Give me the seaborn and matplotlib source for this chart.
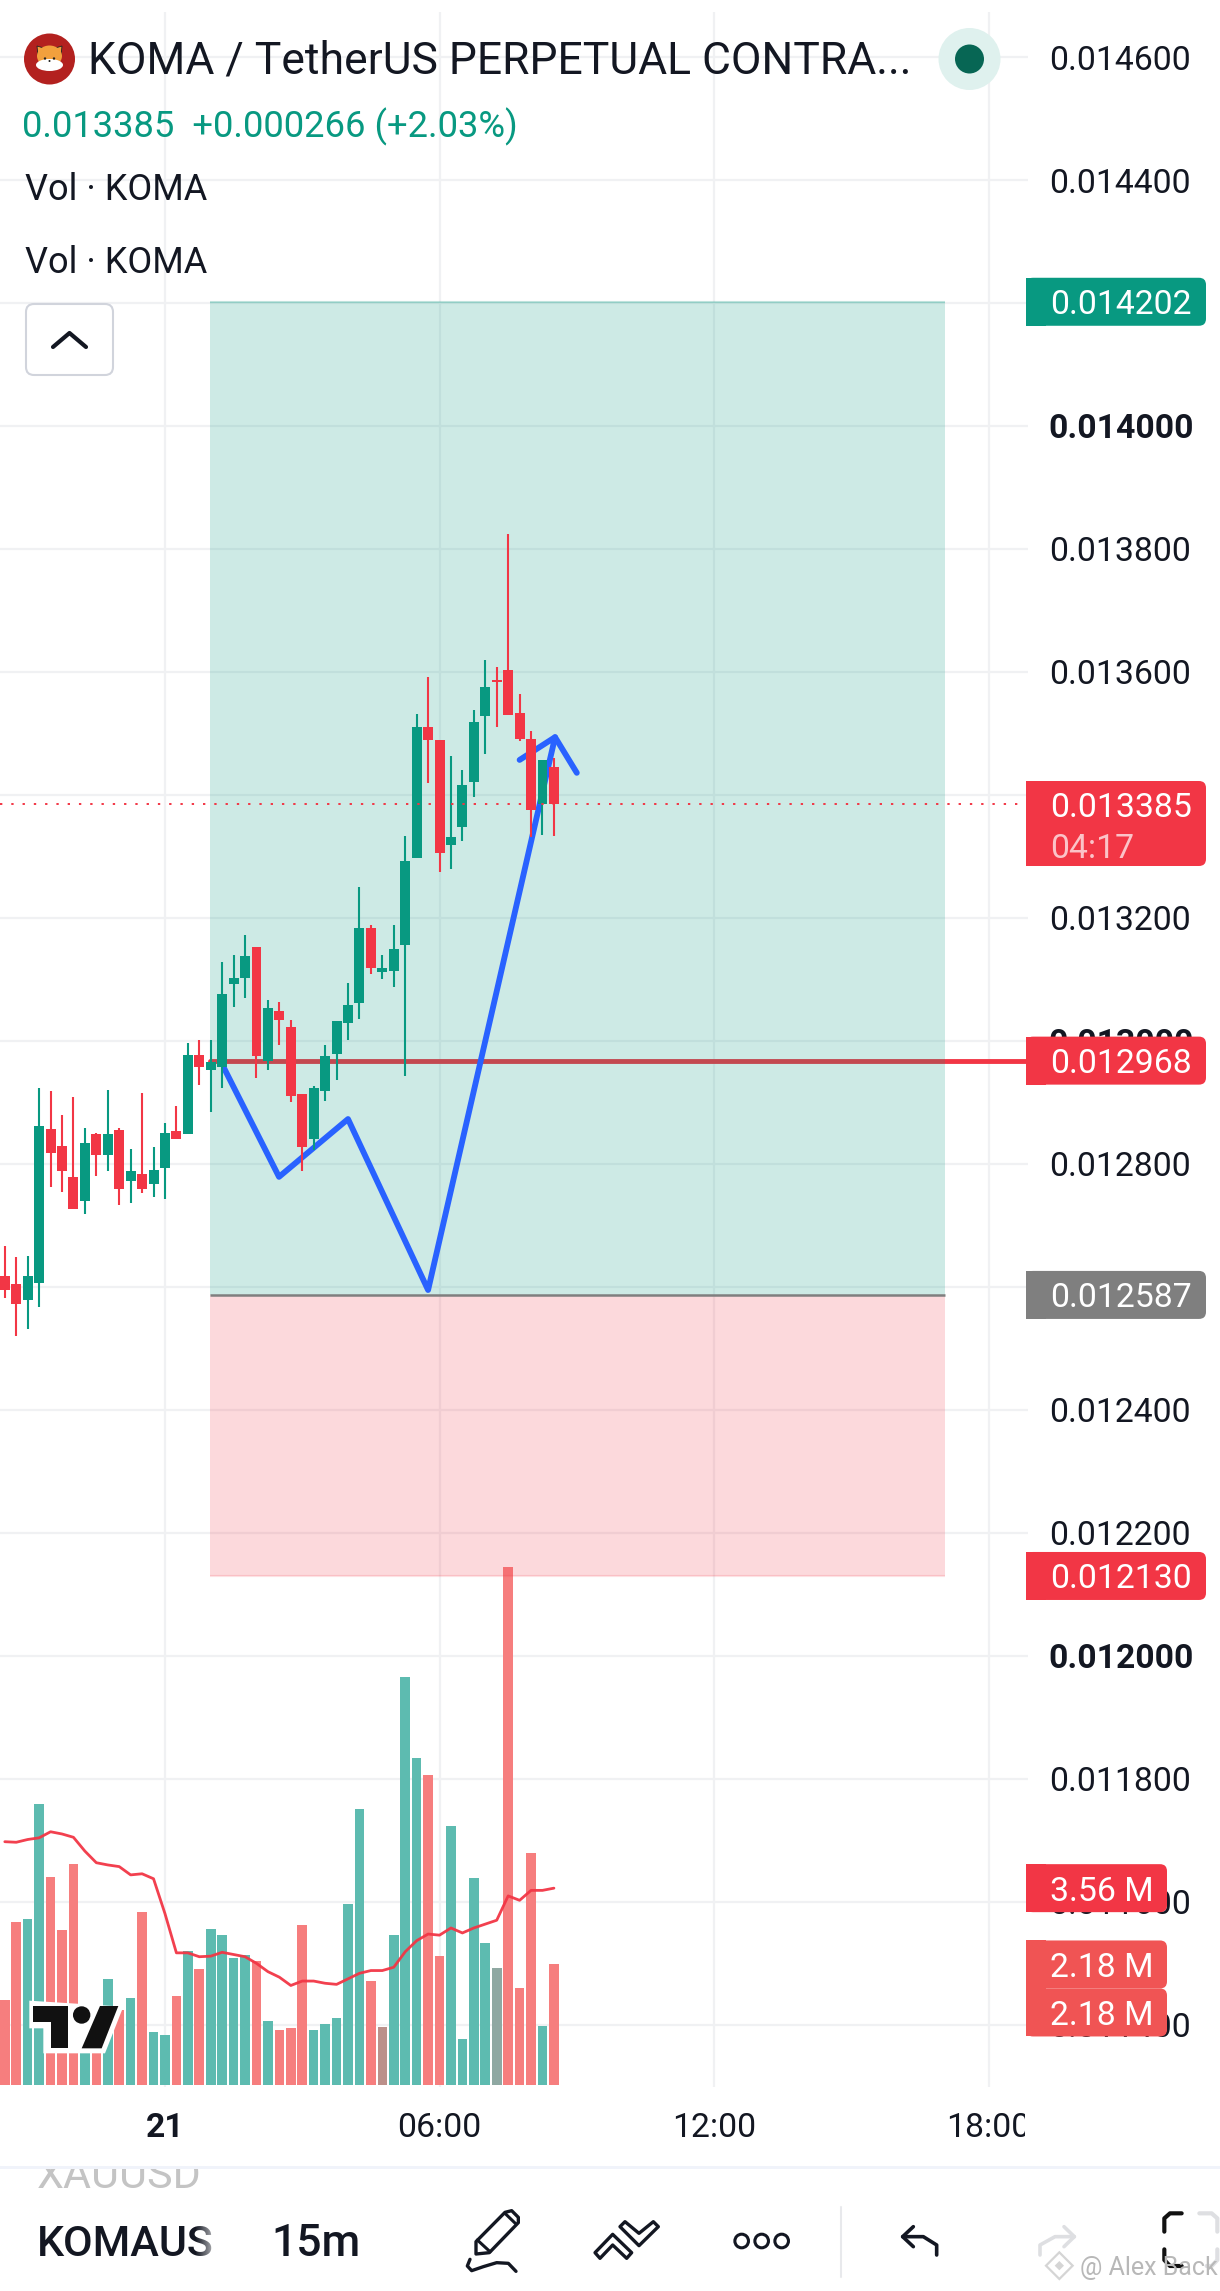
import matplotlib
matplotlib.use("Agg")
import matplotlib.pyplot as plt
import numpy as np
import pandas as pd
import seaborn as sns
from matplotlib.patches import Circle, Ellipse, FancyBboxPatch, Polygon, Rectangle

# candles, price x 1e6, bar index 0 = the "21" session open
first_bar = -14
opens = [12618, 12605, 12578, 12606, 12857, 12829, 12779, 12739, 12848, 12814, 12856, 12772, 12784, 12767,
         12793, 12854, 12849, 12977, 12952, 12957, 13092, 13103, 13152, 12967, 13049, 13023, 12914, 12840,
         12918, 12979, 13030, 13062, 13184, 13112, 13114, 13156, 13298, 13511, 13489, 13319, 13348, 13421,
         13529, 13584, 13603, 13533, 13491, 13386, 13445]
closes = [12595, 12572, 12618, 12861, 12817, 12788, 12727, 12834, 12815, 12849, 12759, 12789, 12760, 12790,
          12851, 12841, 12977, 12957, 12966, 13077, 13103, 13138, 12975, 13054, 13034, 12911, 12827, 12924,
          12976, 13033, 13059, 13184, 13119, 13119, 13149, 13293, 13511, 13490, 13306, 13332, 13416, 13519,
          13575, 13583, 13530, 13491, 13376, 13457, 13385]
highs = [12667, 12648, 12650, 12924, 12918, 12880, 12909, 12859, 12850, 12921, 12859, 12825, 12916, 12828,
         12867, 12895, 12997, 13001, 13001, 13129, 13139, 13173, 13152, 13067, 13064, 13034, 12914, 12927,
         12994, 13033, 13095, 13250, 13188, 13140, 13188, 13333, 13532, 13592, 13489, 13464, 13440, 13538,
         13619, 13608, 13824, 13564, 13504, 13457, 13460]
lows = [12582, 12521, 12531, 12568, 12763, 12755, 12727, 12718, 12781, 12789, 12734, 12737, 12753, 12747,
        12743, 12841, 12849, 12929, 12885, 12924, 13056, 13070, 12939, 12953, 12993, 12901, 12788, 12823,
        12902, 12937, 13002, 13036, 13109, 13101, 13088, 12943, 13298, 13420, 13275, 13280, 13325, 13397,
        13467, 13511, 13530, 13488, 13332, 13335, 13333]

# volume in millions, with the MA line over it
volumes = [1.54, 2.94, 3.01, 5.09, 3.76, 2.81, 3.99, 1.30, 1.30, 1.91, 1.36, 1.57, 3.12, 0.96,
           0.90, 1.61, 2.42, 2.09, 2.83, 2.71, 2.29, 2.36, 2.25, 1.15, 1.00, 1.03, 2.90, 1.00,
           1.11, 1.22, 3.28, 5.00, 1.88, 1.05, 2.72, 7.37, 5.92, 5.60, 2.34, 4.69, 0.84, 3.75,
           2.56, 2.12, 9.36, 1.76, 4.20, 1.07, 2.18]
vol_kinds = ["down", "down", "up", "up", "down", "down", "down", "up", "down", "up", "down", "up", "down", "up",
             "up", "down", "up", "down", "up", "up", "up", "up", "down", "up", "down", "down", "down", "up",
             "up", "up", "up", "up", "down", "brown", "up", "up", "up", "down", "down", "up", "up", "up",
             "up", "grey", "down", "down", "down", "up", "down"]
vol_ma = [4.40, 4.39, 4.44, 4.47, 4.58, 4.54, 4.48, 4.23, 4.02, 3.98, 3.95, 3.80, 3.82, 3.73,
          3.10, 2.39, 2.39, 2.32, 2.33, 2.40, 2.36, 2.32, 2.20, 2.05, 1.95, 1.80, 1.88, 1.88,
          1.84, 1.82, 1.92, 2.02, 2.07, 2.07, 2.13, 2.41, 2.61, 2.73, 2.71, 2.84, 2.75, 2.84,
          2.91, 2.98, 3.42, 3.34, 3.52, 3.52, 3.56]

# hand drawn blue path
path_bars = [5.16, 9.97, 16.0, 23.0, 34.1, 31.0]
path_prices = [12956, 12779, 12873, 12595, 13494, 13457]
wing_bars = [34.1, 36.0]
wing_prices = [13494, 13436]

# long position tool
target = 14202
entry = 12968
stop_line = 12587
stop = 12130
last_price = 13385
tool_start, tool_end = 3.93, 68.2

price_ticks = [14600, 14400, 14200, 14000, 13800, 13600, 13400, 13200, 13000, 12800, 12600, 12400, 12200,
               12000, 11800, 11600, 11400]
bold_ticks = [14000, 13000, 12000]
time_ticks = [0, 24, 48, 72]
time_labels = ["21", "06:00", "12:00", "18:00"]

GREEN = "#089981"
RED = "#f23645"
INK = "#131722"
FONT = "Roboto"

W, H = 1220, 2291
sns.set_theme(style="white")
plt.rcParams["font.family"] = [FONT, "DejaVu Sans"]

fig = plt.figure(figsize=(W / 100, H / 100), dpi=100, facecolor="white")
# chart area in pixels: x 0-1028, y 12-2087
ax = fig.add_axes([0, (H - 2087) / H, 1028 / W, 2075 / H])
ax_vol = ax.twinx()
ax.set_zorder(2)
ax.patch.set_visible(False)
ax_vol.set_zorder(1)
ax_vol.patch.set_facecolor("white")

bars = np.arange(first_bar, first_bar + len(opens))
candles = pd.DataFrame({"bar": bars, "open": opens, "close": closes, "high": highs, "low": lows})
candles["up"] = candles["close"] >= candles["open"]
candles["color"] = candles["up"].map({True: GREEN, False: RED})
vol_df = pd.DataFrame({"bar": bars, "volume": volumes, "kind": vol_kinds, "ma": vol_ma})

# volume pane
sns.barplot(data=vol_df, x="bar", y="volume", hue="kind", dodge=False, native_scale=True, width=0.84,
            palette={"up": "#5dbbb0", "down": "#f67e7e", "brown": "#bb908a", "grey": "#8fa8a2"},
            saturation=1, linewidth=0, errorbar=None, legend=False, ax=ax_vol, zorder=3)
sns.lineplot(data=vol_df, x="bar", y="ma", color=RED, linewidth=2, alpha=0.95, ax=ax_vol, zorder=4)

# grid
xlim = (-14.42, 75.44)
price_lim = (11299, 14673.2)
vol_lim = (-0.036, 37.49)
ax_vol.set_xlim(*xlim)
ax_vol.set_ylim(*vol_lim)
for t in time_ticks:
    ax_vol.axvline(t, color="#f0f1f3", lw=1.6, zorder=1)
for p in price_ticks:
    ax_vol.axhline(np.interp(p, price_lim, vol_lim), color="#f0f1f3", lw=1.6, zorder=1)

# price pane
ax.set_ylim(*price_lim)
tool_lo = (tool_start - xlim[0]) / (xlim[1] - xlim[0])
tool_hi = (tool_end - xlim[0]) / (xlim[1] - xlim[0])
ax.axhline(entry, xmin=tool_lo, color=RED, lw=3.5, zorder=1)
ax.axhspan(stop_line, target, xmin=tool_lo, xmax=tool_hi, facecolor=GREEN, alpha=0.2, lw=0, zorder=1.5)
ax.axhspan(stop, stop_line, xmin=tool_lo, xmax=tool_hi, facecolor=RED, alpha=0.19, lw=0, zorder=1.5)
ax.hlines(target, tool_start, tool_end, color=GREEN, alpha=0.25, lw=1.5, zorder=1.6)
ax.hlines(stop, tool_start, tool_end, color=RED, alpha=0.15, lw=1.5, zorder=1.6)
ax.hlines(stop_line, tool_start, tool_end, color="#7f7f7f", lw=1.8, zorder=1.6)

blue = "#2962ff"
path_df = pd.DataFrame({"bar": path_bars, "price": path_prices})
wing_df = pd.DataFrame({"bar": wing_bars, "price": wing_prices})
for part in (path_df, wing_df):
    sns.lineplot(data=part, x="bar", y="price", sort=False, estimator=None, color=blue, linewidth=4.2,
                 solid_capstyle="round", solid_joinstyle="round", ax=ax, zorder=2.5)

ax.vlines(candles["bar"], candles["low"], candles["high"], colors=candles["color"], lw=1.5, zorder=3)
ax.bar(candles["bar"], (candles["close"] - candles["open"]).abs().clip(lower=4),
       bottom=candles[["open", "close"]].min(axis=1), width=0.87, color=candles["color"], lw=0, zorder=3.1)
ax.axhline(last_price, color=RED, lw=1.4, dashes=(1.2, 4.6), zorder=3.5)

ax.set_xlim(*xlim)
ax.set_xlabel("")
ax.set_ylabel("")
ax_vol.set_xlabel("")
ax_vol.set_ylabel("")
ax_vol.yaxis.set_visible(False)
ax_vol.xaxis.set_visible(False)
ax.yaxis.tick_right()
ax.set_yticks(price_ticks)
ax.set_yticklabels([f"{p / 1e6:.6f}" for p in price_ticks], fontsize=24.3, color=INK, family=FONT,
                   va="center_baseline")
for lab, p in zip(ax.get_yticklabels(), price_ticks):
    if p in bold_ticks:
        lab.set_fontweight("bold")
ax.set_xticks(time_ticks)
ax.set_xticklabels(time_labels, fontsize=24.3, color=INK, family=FONT)
ax.get_xticklabels()[0].set_fontweight("bold")
ax.tick_params(axis="y", length=0, pad=15)
ax.tick_params(axis="x", length=0, pad=18)
sns.despine(ax=ax, left=True, right=True, top=True, bottom=True)
sns.despine(ax=ax_vol, left=True, right=True, top=True, bottom=True)

# everything that is app chrome sits on a pixel overlay
ov = fig.add_axes([0, 0, 1, 1], zorder=5)
ov.axis("off")
ov.patch.set_visible(False)


def txt(x, y, s, size=24.3, color=INK, weight="normal", ha="left", va="center_baseline", **kw):
    return ov.text(x, y, s, fontsize=size, color=color, fontweight=weight, ha=ha, va=va, family=FONT, **kw)


def to_overlay(axis, y):
    # fig height in pixels minus display y, the overlay runs top-down
    return H - axis.transData.transform((0, y))[1]


def tag(cy, label, color, right=1206, height=48, top=None, bottom=None):
    top = cy - height / 2 if top is None else top
    bottom = cy + height / 2 if bottom is None else bottom
    ov.add_patch(FancyBboxPatch((1026, top), right - 1026, bottom - top, boxstyle="round,pad=0,rounding_size=7",
                                fc=color, ec="none", zorder=6))
    ov.add_patch(Rectangle((1026, top), 20, bottom - top, fc=color, ec="none", zorder=6))
    if label:
        txt(1050, cy, label, color="white", zorder=7)


tag(to_overlay(ax, target), f"{target / 1e6:.6f}", GREEN)
tag(to_overlay(ax, entry), f"{entry / 1e6:.6f}", RED)
tag(to_overlay(ax, stop_line), f"{stop_line / 1e6:.6f}", "#7f7f7f")
tag(to_overlay(ax, stop), f"{stop / 1e6:.6f}", RED)
tag(to_overlay(ax, last_price), f"{last_price / 1e6:.6f}", RED, top=781, bottom=866)
txt(1050, 845, "04:17", color="#fbc3c8", zorder=7)
tag(to_overlay(ax_vol, vol_ma[-1]), "3.56 M", RED, right=1167)
tag(to_overlay(ax_vol, volumes[-1]), "2.18 M", "#f05454", right=1167)
tag(to_overlay(ax_vol, volumes[-1]) + 48, "2.18 M", "#f05454", right=1167)

# 18:00 is cut off where the price scale starts
ov.add_patch(Rectangle((1025, 2095), 60, 60, fc="white", ec="none", zorder=2))

# header
ov.add_patch(Circle((49.5, 59), 25.5, fc="#b3211f", ec="none"))
ov.add_patch(Polygon([(37, 46), (38, 56), (47, 49)], fc="#f2a03d", ec="#222222", lw=0.6))
ov.add_patch(Polygon([(62, 46), (61, 56), (52, 49)], fc="#f2a03d", ec="#222222", lw=0.6))
ov.add_patch(Ellipse((49.5, 56), 25, 21, fc="#f2a03d", ec="none"))
ov.add_patch(Ellipse((49.5, 65), 27, 12, fc="white", ec="none"))
for ex, ey, r in ((45, 58.5, 1.2), (54, 58.5, 1.2), (49.5, 61, 1)):
    ov.add_patch(Circle((ex, ey), r, fc="#222222", ec="none"))
txt(88, 57, "KOMA / TetherUS PERPETUAL CONTRA...", size=32)
ov.add_patch(Circle((969.5, 59), 31, fc="#dff1ee", ec="none"))
ov.add_patch(Circle((969.5, 59), 14.5, fc="#076654", ec="none"))
txt(22, 123, "0.013385  +0.000266 (+2.03%)", size=26.2, color=GREEN)
txt(25, 186, "Vol · KOMA", size=26)
txt(25, 259, "Vol · KOMA", size=26)
ov.add_patch(FancyBboxPatch((26, 304), 87, 71, boxstyle="round,pad=0,rounding_size=8", fc="white", ec="#d1d4dc", lw=1.5))
ov.plot([53, 69.5, 86], [347, 333, 347], color=INK, lw=3, solid_capstyle="round", solid_joinstyle="round")

# tv logo
logo_x = lambda v: v / 3
logo_y = lambda v: 1750 + v / 3
bg = [(88, 752), (370, 770), (315, 910), (130, 910), (130, 835), (88, 835)]
ov.add_patch(Polygon([(logo_x(a), logo_y(b)) for a, b in bg], fc="white", ec="none"))
t_shape = [(100, 768), (205, 768), (205, 895), (152, 895), (152, 815), (100, 815)]
ov.add_patch(Polygon([(logo_x(a), logo_y(b)) for a, b in t_shape], fc="#111111", ec="none"))
ov.add_patch(Circle((logo_x(245), logo_y(795)), 8.7, fc="#111111", ec="none"))
slash = [(300, 768), (355, 768), (305, 895), (245, 895)]
ov.add_patch(Polygon([(logo_x(a), logo_y(b)) for a, b in slash], fc="#111111", ec="none"))

# bottom toolbar
txt(37, 2188, "XAUUSD", size=31, color="#c4c4c4", va="baseline", zorder=1)
ov.add_patch(Rectangle((0, 2140), 300, 27, fc="white", ec="none", zorder=1.5))
ov.add_patch(Rectangle((0, 2166), W, 3, fc="#f0f3fa", ec="none", zorder=1.6))
txt(37, 2256, "KOMAUS", size=31, weight="medium", va="baseline", zorder=3)
fade = np.ones((1, 32, 4))
fade[0, :, 3] = np.linspace(0, 1, 32)
txt(271, 2256, "15m", size=32, weight="medium", va="baseline", zorder=3)

zx = lambda v: 440 + v / 3
zy = lambda v: 2180 + v / 3
pencil = [(108, 185), (195, 97), (215, 92), (235, 112), (235, 128), (148, 218), (108, 222)]
ov.add_patch(Polygon([(zx(a), zy(b)) for a, b in pencil], fc="none", ec=INK, lw=2.4, joinstyle="round"))
ov.plot([zx(112), zx(150)], [zy(180), zy(215)], color=INK, lw=2.2)
ov.plot([zx(197), zx(228)], [zy(102), zy(132)], color=INK, lw=2.2)
ov.plot([zx(v) for v in (90, 82, 95, 130, 170, 205, 228)], [zy(v) for v in (238, 258, 272, 260, 248, 250, 274)],
        color=INK, lw=2.4, solid_capstyle="round", solid_joinstyle="round")
lower = [(465, 218), (518, 163), (575, 218), (560, 235), (518, 195), (480, 235)]
upper = [(540, 140), (555, 125), (597, 160), (640, 125), (655, 140), (597, 197)]
for shape in (lower, upper):
    ov.add_patch(Polygon([(zx(a), zy(b)) for a, b in shape], fc="none", ec=INK, lw=2.4, joinstyle="round"))
for cx in (905, 965, 1025):
    ov.add_patch(Circle((zx(cx), zy(183)), 6.8, fc="none", ec=INK, lw=2.2))
ov.plot([841, 841], [2207, 2277], color="#e8e9ec", lw=1.5)

ux = lambda v: 860 + v / 3
ov.plot([ux(v) for v in (160, 128, 160)], [zy(v) for v in (140, 170, 200)], color=INK, lw=2.6)
ov.plot([ux(v) for v in (128, 190, 230, 230)], [zy(v) for v in (170, 170, 195, 225)], color=INK, lw=2.6)
light = "#dedfe2"
ov.plot([ux(v) for v in (612, 643, 612)], [zy(v) for v in (140, 170, 200)], color=light, lw=2.6)
ov.plot([ux(v) for v in (643, 585, 540, 540)], [zy(v) for v in (170, 170, 195, 225)], color=light, lw=2.6)
ov.plot([ux(v) for v in (965, 930, 913, 913)], [zy(v) for v in (100, 100, 115, 155)], color="#111111", lw=3)
ov.plot([ux(v) for v in (913, 913, 930, 965)], [zy(v) for v in (208, 240, 258, 258)], color="#111111", lw=3)
ov.plot([ux(v) for v in (1018, 1055, 1072, 1072)], [zy(v) for v in (100, 100, 115, 155)], color=light, lw=3)
ov.plot([ux(v) for v in (1072, 1072, 1055, 1040)], [zy(v) for v in (208, 240, 258, 258)], color=light, lw=3)

# watermark
ov.add_patch(Polygon([(ux(a), zy(b)) for a, b in [(558, 257), (598, 217), (638, 257), (598, 297)]],
                     fc="white", ec="#d5d5d5", lw=1.6, zorder=6))
ov.add_patch(Polygon([(ux(a), zy(b)) for a, b in [(584, 257), (598, 243), (612, 257), (598, 271)]],
                     fc="#d5d5d5", ec="none", zorder=6))
txt(1080, 2266, "@ Alex Back", size=18, color="#b8b8b8", zorder=6)

ov.imshow(fade, extent=(195, 223, 2265, 2215), aspect="auto", zorder=4, interpolation="bilinear")
ov.set_xlim(0, W)
ov.set_ylim(H, 0)

fig.savefig("out.png", dpi=100, facecolor="white")
